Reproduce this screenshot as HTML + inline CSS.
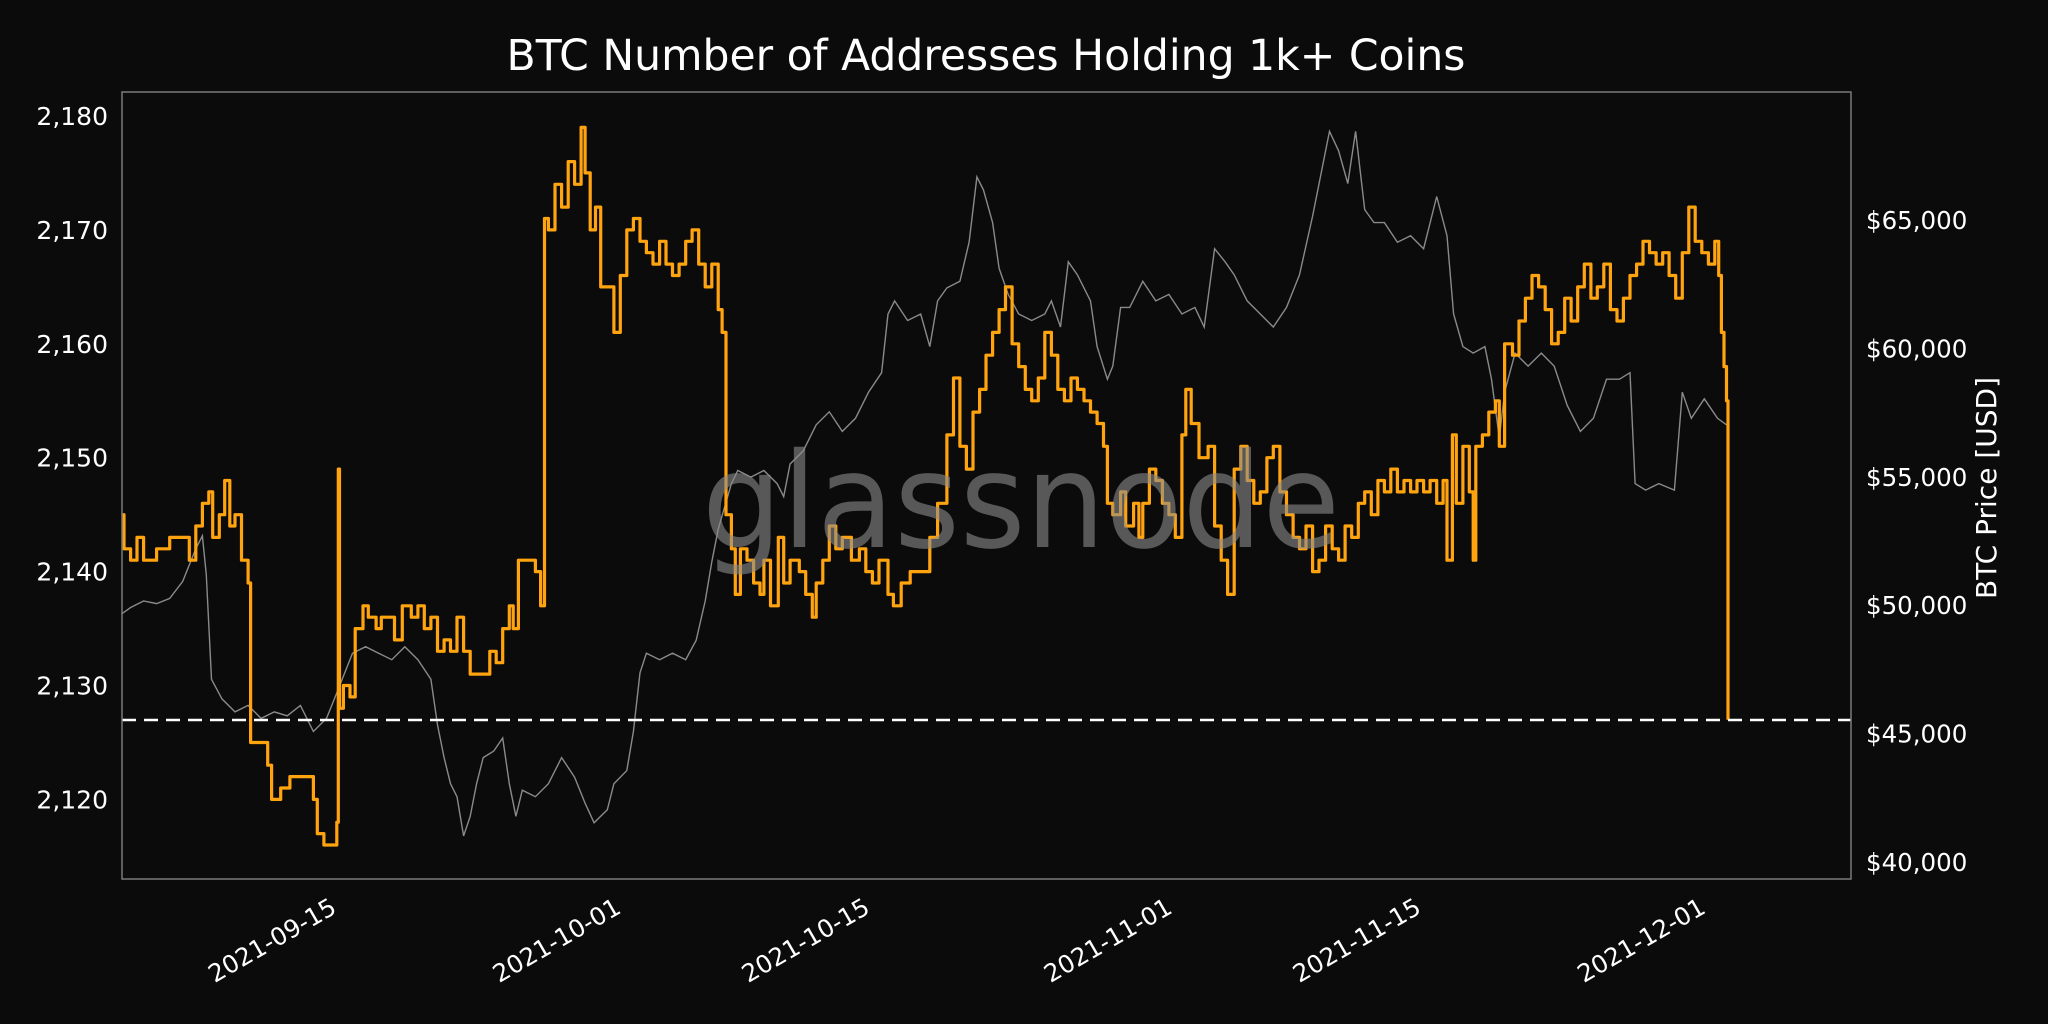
<!DOCTYPE html>
<html><head><meta charset="utf-8"><style>
html,body{margin:0;padding:0;background:#0b0b0b;}
svg{display:block;}
text{font-family:"DejaVu Sans","Liberation Sans",sans-serif;fill:#fff;}
</style></head><body>
<svg id="chart" width="2048" height="1024" viewBox="0 0 2048 1024" xmlns="http://www.w3.org/2000/svg">
<rect x="0" y="0" width="2048" height="1024" fill="#0b0b0b"/>
<text x="986" y="70" font-size="42.5" text-anchor="middle">BTC Number of Addresses Holding 1k+ Coins</text>
<g id="grey"></g>
<g id="orange"></g>
<text x="702" y="547" font-size="132" textLength="638" lengthAdjust="spacingAndGlyphs" style="fill:#8c8c8c" opacity="0.6">glassnode</text>
<line x1="122" y1="720" x2="1851" y2="720" stroke="#fff" stroke-width="2.5" stroke-dasharray="14,8"/>
<rect x="122" y="92" width="1729" height="787" fill="none" stroke="#7a7a7a" stroke-width="1.5"/>
<g id="yl"></g>
<g id="yr"></g>
<g id="xa"></g>
<text transform="translate(1996,488) rotate(-90)" font-size="28" text-anchor="middle">BTC Price [USD]</text>
</svg>
<script>
// days relative to 2021-09-15
const addrDays=[-12.41,-12.26,-11.89,-11.53,-11.16,-10.43,-10.06,-9.69,-8.96,-8.59,-8.22,-7.85,-7.49,-7.27,-6.90,-6.60,-6.31,-6.02,-5.65,-5.28,-5.14,-4.55,-4.18,-3.96,-3.45,-2.93,-1.98,-1.61,-1.39,-1.02,-0.43,-0.29,-0.21,-0.14,0.08,0.45,0.74,1.18,1.48,1.92,2.21,2.65,2.95,3.39,3.90,4.27,4.63,5.00,5.37,5.74,6.10,6.47,6.84,7.21,7.79,8.31,8.67,9.04,9.41,9.63,9.92,10.51,10.88,11.17,11.39,11.61,11.98,12.35,12.72,13.08,13.45,13.67,13.96,14.26,14.55,14.92,15.29,15.65,16.02,16.39,16.76,17.12,17.49,17.86,18.22,18.59,18.96,19.33,19.69,20.06,20.43,20.80,21.16,21.38,21.60,21.90,22.12,22.41,22.78,23.15,23.51,23.73,24.10,24.54,24.84,25.20,25.72,26.08,26.45,26.67,27.04,27.41,27.77,28.14,28.65,29.10,29.46,29.83,30.20,30.71,31.01,31.45,31.96,32.55,33.06,33.50,34.02,34.39,34.75,35.12,35.49,35.86,36.22,36.59,36.96,37.32,37.69,38.06,38.43,38.79,39.16,39.53,39.90,40.26,40.63,41.00,41.36,41.73,42.10,42.47,42.83,43.05,43.35,43.79,44.08,44.52,44.82,45.04,45.41,45.77,46.14,46.51,46.87,47.24,47.46,47.76,48.20,48.71,49.08,49.45,49.81,50.18,50.55,50.91,51.28,51.65,52.02,52.38,52.75,53.12,53.49,53.85,54.22,54.59,54.95,55.32,55.69,56.05,56.42,56.79,57.16,57.52,57.89,58.26,58.63,58.99,59.36,59.73,60.10,60.46,60.83,61.20,61.57,61.93,62.15,62.45,62.67,63.04,63.40,63.62,63.77,64.14,64.50,64.87,65.09,65.39,65.83,66.20,66.56,66.93,67.30,67.67,68.03,68.40,68.77,69.13,69.50,69.87,70.24,70.60,70.97,71.34,71.71,72.07,72.44,72.81,73.17,73.54,73.91,74.28,74.64,75.01,75.38,75.75,76.11,76.48,76.85,77.21,77.43,77.58,77.73,77.87,77.95];
const addrValues=[2145,2142,2141,2143,2141,2142,2142,2143,2143,2141,2144,2146,2147,2143,2145,2148,2144,2145,2141,2139,2125,2125,2123,2120,2121,2122,2122,2120,2117,2116,2116,2118,2149,2128,2130,2129,2135,2137,2136,2135,2136,2136,2134,2137,2136,2137,2135,2136,2133,2134,2133,2136,2133,2131,2131,2133,2132,2135,2137,2135,2141,2141,2140,2137,2171,2170,2174,2172,2176,2174,2179,2175,2170,2172,2165,2165,2161,2166,2170,2171,2169,2168,2167,2169,2167,2166,2167,2169,2170,2167,2165,2167,2163,2161,2145,2142,2138,2142,2141,2139,2138,2141,2137,2143,2139,2141,2140,2138,2136,2139,2141,2144,2142,2143,2141,2142,2140,2139,2141,2138,2137,2139,2140,2140,2143,2146,2152,2157,2151,2149,2154,2156,2159,2161,2163,2165,2160,2158,2156,2155,2157,2161,2159,2156,2155,2157,2156,2155,2154,2153,2151,2146,2145,2147,2144,2146,2143,2146,2149,2148,2146,2145,2143,2152,2156,2153,2150,2151,2144,2141,2138,2149,2151,2148,2146,2147,2150,2151,2147,2145,2143,2142,2144,2140,2141,2144,2142,2141,2144,2143,2146,2147,2145,2148,2147,2149,2147,2148,2147,2148,2147,2148,2146,2148,2141,2152,2146,2151,2147,2141,2151,2152,2154,2155,2151,2160,2159,2162,2164,2166,2165,2163,2160,2161,2164,2162,2165,2167,2164,2165,2167,2163,2162,2164,2166,2167,2169,2168,2167,2168,2166,2164,2168,2172,2169,2168,2167,2169,2166,2161,2158,2155,2127];
const priceDays=[-12.41,-11.89,-11.16,-10.43,-9.69,-8.96,-8.22,-7.85,-7.63,-7.34,-6.75,-6.02,-5.28,-4.55,-3.81,-3.08,-2.34,-1.61,-0.87,-0.43,0.01,0.59,1.33,2.06,2.80,3.53,4.27,5.00,5.37,5.74,6.10,6.47,6.84,7.21,7.57,7.94,8.53,9.04,9.41,9.78,10.14,10.88,11.61,12.35,13.08,13.67,14.18,14.92,15.29,16.02,16.39,16.76,17.12,17.86,18.59,19.33,19.92,20.43,20.80,21.16,21.90,22.26,23.00,23.73,24.47,24.84,25.20,25.94,26.67,27.41,28.14,28.88,29.61,30.35,30.71,31.08,31.81,32.55,33.06,33.50,34.02,34.75,35.27,35.71,36.08,36.59,36.96,37.47,38.06,38.79,39.53,39.90,40.41,40.85,41.36,42.10,42.47,43.05,43.35,43.79,44.30,45.04,45.77,46.51,47.24,47.97,48.49,49.08,49.67,50.18,50.91,51.65,52.38,53.12,53.85,54.59,55.10,55.54,56.05,56.57,57.01,57.52,58.04,58.63,59.36,60.10,60.83,61.57,62.15,62.52,63.04,63.62,64.28,64.65,65.09,65.39,65.98,66.71,67.45,68.18,68.91,69.65,70.38,71.12,71.85,72.44,72.73,73.32,74.06,74.94,75.38,75.89,76.62,77.36,77.87];
const priceValues=[49655,49910,50163,50062,50265,50926,52196,52704,51180,47115,46353,45845,46099,45590,45845,45692,46099,45082,45590,46353,47115,48131,48385,48131,47877,48385,47877,47115,45337,44066,43050,42542,41018,41780,43050,44066,44320,44828,43050,41780,42796,42542,43050,44066,43304,42288,41526,42034,43050,43558,45082,47369,48131,47877,48131,47877,48639,50163,51688,52958,54736,55244,54990,55244,54736,54228,55498,56007,57023,57531,56769,57277,58293,59055,61341,61849,61087,61341,60072,61849,62357,62611,64136,66677,66169,64898,63120,62103,61341,61087,61341,61849,60834,63374,62866,61849,60072,58802,59310,61596,61596,62611,61849,62103,61341,61596,60834,63882,63374,62866,61849,61341,60834,61596,62866,65152,66931,68455,67693,66423,68455,65406,64898,64898,64136,64390,63882,65915,64390,61341,60072,59818,60072,58802,56515,58293,59818,59310,59818,59310,57785,56769,57277,58802,58802,59055,54736,54482,54736,54482,58293,57277,58039,57277,57023];
const leftTicks=[2120,2130,2140,2150,2160,2170,2180];
const rightTicks=[40000,45000,50000,55000,60000,65000];
const xTickDays=[0,16,30,47,61,77];
const xTickLabels=["2021-09-15","2021-10-01","2021-10-15","2021-11-01","2021-11-15","2021-12-01"];

const NS="http://www.w3.org/2000/svg";
function xs(d){return 342+d*17.78;}
function yl(v){return 116+(2180-v)*11.39;}
function yr(p){return 862-(p-40000)*0.02568;}
function mk(tag,attrs,parent){const e=document.createElementNS(NS,tag);for(const k in attrs)e.setAttribute(k,attrs[k]);parent.appendChild(e);return e;}

let gd="";
priceDays.forEach((d,i)=>{gd+=(i?"L":"M")+xs(d).toFixed(1)+","+yr(priceValues[i]).toFixed(1);});
const gp=mk("path",{d:gd,fill:"none",stroke:"#8a8a8a","stroke-width":"1.4"},document.getElementById("grey"));



let od="";
addrDays.forEach((d,i)=>{const X=xs(d).toFixed(1),Y=yl(addrValues[i]).toFixed(1);
  if(i===0)od+="M"+X+","+Y;else od+="H"+X+"V"+Y;});
const op=mk("path",{d:od,fill:"none",stroke:"#ffa30f","stroke-width":"3.2","stroke-linejoin":"round"},document.getElementById("orange"));



const gl=document.getElementById("yl");
leftTicks.forEach(v=>{const t=mk("text",{x:108,y:(yl(v)+9).toFixed(1),"font-size":"25","text-anchor":"end"},gl);
  t.textContent=v.toLocaleString("en-US");
  
  });
const gr=document.getElementById("yr");
rightTicks.forEach(v=>{const t=mk("text",{x:1866,y:(yr(v)+9).toFixed(1),"font-size":"24.5"},gr);
  t.textContent="$"+v.toLocaleString("en-US");
  
  });
const gx=document.getElementById("xa");
xTickDays.forEach((d,i)=>{const X=xs(d);
  const t=mk("text",{transform:"translate("+(X-4).toFixed(1)+",912) rotate(-30)","font-size":"24.5","text-anchor":"end"},gx);
  t.textContent=xTickLabels[i];
  
  });
</script>
</body></html>
